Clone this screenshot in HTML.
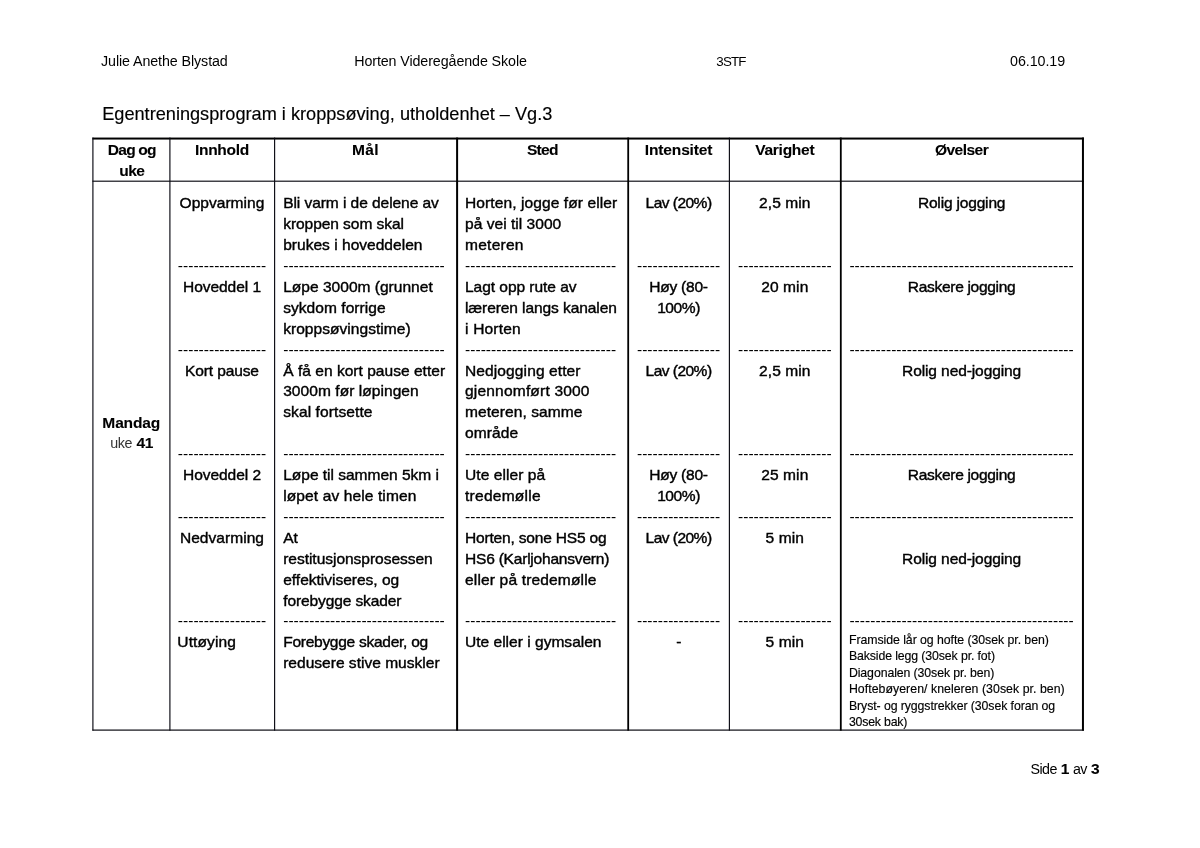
<!DOCTYPE html>
<html lang="no"><head><meta charset="utf-8"><title>Egentreningsprogram i kroppsøving, utholdenhet – Vg.3</title>
<style>
html,body{margin:0;padding:0;background:#fff;}
.page{position:relative;width:1200px;height:848px;overflow:hidden;background:#fff;font-family:"Liberation Sans", sans-serif;color:#000;}
h1{margin:0;font:inherit;}
.t{position:absolute;white-space:pre;line-height:1;font-kerning:normal;-webkit-text-stroke:0.4px currentColor;}
.h,.d{-webkit-text-stroke:0;}
.s{-webkit-text-stroke:0.15px currentColor;}
.b{-webkit-text-stroke:0.1px currentColor;}
.rules{position:absolute;left:0;top:0;}
</style></head><body><div class="page">
<svg class="rules" width="1200" height="848" viewBox="0 0 1200 848" aria-hidden="true"><rect x="92.40" y="137.55" width="991.60" height="2.00" fill="#000"/><rect x="92.40" y="180.62" width="991.60" height="1.15" fill="#0a0a12"/><rect x="92.40" y="729.50" width="991.60" height="1.20" fill="#0a0a12"/><rect x="92.33" y="137.55" width="1.15" height="593.10" fill="#0a0a12"/><rect x="169.33" y="137.55" width="1.15" height="593.10" fill="#0a0a12"/><rect x="274.03" y="137.55" width="1.15" height="593.10" fill="#0a0a12"/><rect x="456.10" y="137.55" width="2.00" height="593.10" fill="#000"/><rect x="627.30" y="137.55" width="1.80" height="593.10" fill="#000"/><rect x="728.82" y="137.55" width="1.15" height="593.10" fill="#0a0a12"/><rect x="839.90" y="137.55" width="1.80" height="593.10" fill="#000"/><rect x="1081.95" y="137.55" width="2.00" height="593.10" fill="#000"/></svg>
<header>
<span class="t h" style="left:101.00px;top:54px;font-size:14.27px;letter-spacing:-0.089px;">Julie Anethe Blystad</span>
<span class="t h" style="left:354.20px;top:54px;font-size:14.27px;letter-spacing:-0.096px;">Horten Videregående Skole</span>
<span class="t h" style="left:716.30px;top:55px;font-size:13.33px;letter-spacing:-0.834px;">3STF</span>
<span class="t h" style="left:1010.08px;top:54px;font-size:14.27px;letter-spacing:-0.077px;">06.10.19</span>
</header>
<h1>
<span class="t s" style="left:102.20px;top:105px;font-size:18.16px;">Egentreningsprogram i kroppsøving, utholdenhet – Vg.3</span>
</h1>
<div role="table">
<div role="row">
<div role="columnheader">
<span class="t b" style="left:107.86px;top:142px;font-size:15.56px;font-weight:700;letter-spacing:-0.801px;">Dag og</span>
<span class="t b" style="left:119.34px;top:163px;font-size:15.56px;font-weight:700;letter-spacing:-0.627px;">uke</span>
</div>
<div role="columnheader">
<span class="t b" style="left:194.95px;top:142px;font-size:15.56px;font-weight:700;letter-spacing:-0.298px;">Innhold</span>
</div>
<div role="columnheader">
<span class="t b" style="left:352.06px;top:142px;font-size:15.56px;font-weight:700;letter-spacing:0.352px;">Mål</span>
</div>
<div role="columnheader">
<span class="t b" style="left:526.91px;top:142px;font-size:15.56px;font-weight:700;letter-spacing:-0.681px;">Sted</span>
</div>
<div role="columnheader">
<span class="t b" style="left:644.74px;top:142px;font-size:15.56px;font-weight:700;letter-spacing:-0.149px;">Intensitet</span>
</div>
<div role="columnheader">
<span class="t b" style="left:755.31px;top:142px;font-size:15.56px;font-weight:700;letter-spacing:-0.298px;">Varighet</span>
</div>
<div role="columnheader">
<span class="t b" style="left:934.96px;top:142px;font-size:15.56px;font-weight:700;letter-spacing:-0.541px;">Øvelser</span>
</div>
</div>
<div role="row">
<div role="cell">
<span class="t b" style="left:102.36px;top:415px;font-size:15.56px;font-weight:700;letter-spacing:-0.176px;">Mandag</span>
<span class="t h" style="left:110.25px;top:436px;font-size:14.27px;color:#333;letter-spacing:-0.349px;">uke </span>
<span class="t b" style="left:136.42px;top:435px;font-size:15.56px;font-weight:700;letter-spacing:-0.284px;">41</span>
</div>
<div role="cell">
<span class="t" style="left:179.56px;top:195px;font-size:15.56px;letter-spacing:0.013px;">Oppvarming</span>
<span class="t d" style="left:177.79px;top:258px;font-size:15.56px;letter-spacing:0.021px;">-----------------</span>
<span class="t" style="left:182.99px;top:279px;font-size:15.56px;letter-spacing:-0.068px;">Hoveddel 1</span>
<span class="t d" style="left:177.79px;top:342px;font-size:15.56px;letter-spacing:0.021px;">-----------------</span>
<span class="t" style="left:185.03px;top:363px;font-size:15.56px;letter-spacing:-0.132px;">Kort pause</span>
<span class="t d" style="left:177.79px;top:446px;font-size:15.56px;letter-spacing:0.021px;">-----------------</span>
<span class="t" style="left:182.99px;top:467px;font-size:15.56px;letter-spacing:-0.068px;">Hoveddel 2</span>
<span class="t d" style="left:177.79px;top:509px;font-size:15.56px;letter-spacing:0.021px;">-----------------</span>
<span class="t" style="left:179.90px;top:530px;font-size:15.56px;letter-spacing:0.032px;">Nedvarming</span>
<span class="t d" style="left:177.79px;top:613px;font-size:15.56px;letter-spacing:0.021px;">-----------------</span>
<span class="t" style="left:177.35px;top:634px;font-size:15.56px;letter-spacing:0.101px;">Uttøying</span>
</div>
<div role="cell">
<span class="t" style="left:283.20px;top:195px;font-size:15.56px;letter-spacing:-0.074px;">Bli varm i de delene av</span>
<span class="t" style="left:283.20px;top:216px;font-size:15.56px;letter-spacing:-0.073px;">kroppen som skal</span>
<span class="t" style="left:283.20px;top:237px;font-size:15.56px;letter-spacing:0.005px;">brukes i hoveddelen</span>
<span class="t d" style="left:283.20px;top:258px;font-size:15.56px;letter-spacing:0.037px;">-------------------------------</span>
<span class="t" style="left:283.20px;top:279px;font-size:15.56px;">Løpe 3000m (grunnet</span>
<span class="t" style="left:283.20px;top:300px;font-size:15.56px;letter-spacing:0.036px;">sykdom forrige</span>
<span class="t" style="left:283.20px;top:321px;font-size:15.56px;letter-spacing:0.025px;">kroppsøvingstime)</span>
<span class="t d" style="left:283.20px;top:342px;font-size:15.56px;letter-spacing:0.037px;">-------------------------------</span>
<span class="t" style="left:283.20px;top:363px;font-size:15.56px;letter-spacing:0.013px;">Å få en kort pause etter</span>
<span class="t" style="left:283.20px;top:383px;font-size:15.56px;letter-spacing:0.041px;">3000m før løpingen</span>
<span class="t" style="left:283.20px;top:404px;font-size:15.56px;letter-spacing:0.088px;">skal fortsette</span>
<span class="t d" style="left:283.20px;top:446px;font-size:15.56px;letter-spacing:0.037px;">-------------------------------</span>
<span class="t" style="left:283.20px;top:467px;font-size:15.56px;letter-spacing:-0.032px;">Løpe til sammen 5km i</span>
<span class="t" style="left:283.20px;top:488px;font-size:15.56px;letter-spacing:0.102px;">løpet av hele timen</span>
<span class="t d" style="left:283.20px;top:509px;font-size:15.56px;letter-spacing:0.037px;">-------------------------------</span>
<span class="t" style="left:283.20px;top:530px;font-size:15.56px;letter-spacing:-0.058px;">At</span>
<span class="t" style="left:283.20px;top:551px;font-size:15.56px;letter-spacing:-0.039px;">restitusjonsprosessen</span>
<span class="t" style="left:283.20px;top:572px;font-size:15.56px;letter-spacing:-0.022px;">effektiviseres, og</span>
<span class="t" style="left:283.20px;top:593px;font-size:15.56px;letter-spacing:-0.121px;">forebygge skader</span>
<span class="t d" style="left:283.20px;top:613px;font-size:15.56px;letter-spacing:0.037px;">-------------------------------</span>
<span class="t" style="left:283.20px;top:634px;font-size:15.56px;letter-spacing:-0.285px;">Forebygge skader, og</span>
<span class="t" style="left:283.20px;top:655px;font-size:15.56px;">redusere stive muskler</span>
</div>
<div role="cell">
<span class="t" style="left:465.00px;top:195px;font-size:15.56px;letter-spacing:0.085px;">Horten, jogge før eller</span>
<span class="t" style="left:465.00px;top:216px;font-size:15.56px;letter-spacing:0.020px;">på vei til 3000</span>
<span class="t" style="left:465.00px;top:237px;font-size:15.56px;letter-spacing:0.242px;">meteren</span>
<span class="t d" style="left:465.00px;top:258px;font-size:15.56px;letter-spacing:0.035px;">-----------------------------</span>
<span class="t" style="left:465.00px;top:279px;font-size:15.56px;letter-spacing:-0.056px;">Lagt opp rute av</span>
<span class="t" style="left:465.00px;top:300px;font-size:15.56px;letter-spacing:-0.097px;">læreren langs kanalen</span>
<span class="t" style="left:465.00px;top:321px;font-size:15.56px;letter-spacing:0.177px;">i Horten</span>
<span class="t d" style="left:465.00px;top:342px;font-size:15.56px;letter-spacing:0.035px;">-----------------------------</span>
<span class="t" style="left:465.00px;top:363px;font-size:15.56px;letter-spacing:0.096px;">Nedjogging etter</span>
<span class="t" style="left:465.00px;top:383px;font-size:15.56px;letter-spacing:0.177px;">gjennomført 3000</span>
<span class="t" style="left:465.00px;top:404px;font-size:15.56px;letter-spacing:0.065px;">meteren, samme</span>
<span class="t" style="left:465.00px;top:425px;font-size:15.56px;letter-spacing:0.106px;">område</span>
<span class="t d" style="left:465.00px;top:446px;font-size:15.56px;letter-spacing:0.035px;">-----------------------------</span>
<span class="t" style="left:465.00px;top:467px;font-size:15.56px;letter-spacing:0.052px;">Ute eller på</span>
<span class="t" style="left:465.00px;top:488px;font-size:15.56px;letter-spacing:0.246px;">tredemølle</span>
<span class="t d" style="left:465.00px;top:509px;font-size:15.56px;letter-spacing:0.035px;">-----------------------------</span>
<span class="t" style="left:465.00px;top:530px;font-size:15.56px;letter-spacing:-0.203px;">Horten, sone HS5 og</span>
<span class="t" style="left:465.00px;top:551px;font-size:15.56px;letter-spacing:-0.224px;">HS6 (Karljohansvern)</span>
<span class="t" style="left:465.00px;top:572px;font-size:15.56px;letter-spacing:0.151px;">eller på tredemølle</span>
<span class="t d" style="left:465.00px;top:613px;font-size:15.56px;letter-spacing:0.035px;">-----------------------------</span>
<span class="t" style="left:465.00px;top:634px;font-size:15.56px;">Ute eller i gymsalen</span>
</div>
<div role="cell">
<span class="t" style="left:645.55px;top:195px;font-size:15.56px;letter-spacing:-0.541px;">Lav (20%)</span>
<span class="t d" style="left:636.98px;top:258px;font-size:15.56px;letter-spacing:0.018px;">----------------</span>
<span class="t" style="left:649.37px;top:279px;font-size:15.56px;letter-spacing:-0.264px;">Høy (80-</span>
<span class="t" style="left:657.15px;top:300px;font-size:15.56px;letter-spacing:-0.429px;">100%)</span>
<span class="t d" style="left:636.98px;top:342px;font-size:15.56px;letter-spacing:0.018px;">----------------</span>
<span class="t" style="left:645.55px;top:363px;font-size:15.56px;letter-spacing:-0.541px;">Lav (20%)</span>
<span class="t d" style="left:636.98px;top:446px;font-size:15.56px;letter-spacing:0.018px;">----------------</span>
<span class="t" style="left:649.37px;top:467px;font-size:15.56px;letter-spacing:-0.264px;">Høy (80-</span>
<span class="t" style="left:657.15px;top:488px;font-size:15.56px;letter-spacing:-0.429px;">100%)</span>
<span class="t d" style="left:636.98px;top:509px;font-size:15.56px;letter-spacing:0.018px;">----------------</span>
<span class="t" style="left:645.55px;top:530px;font-size:15.56px;letter-spacing:-0.541px;">Lav (20%)</span>
<span class="t d" style="left:636.98px;top:613px;font-size:15.56px;letter-spacing:0.018px;">----------------</span>
<span class="t" style="left:676.23px;top:634px;font-size:15.56px;letter-spacing:-0.553px;">-</span>
</div>
<div role="cell">
<span class="t" style="left:759.08px;top:195px;font-size:15.56px;letter-spacing:0.064px;">2,5 min</span>
<span class="t d" style="left:738.00px;top:258px;font-size:15.56px;letter-spacing:0.022px;">------------------</span>
<span class="t" style="left:761.22px;top:279px;font-size:15.56px;letter-spacing:0.082px;">20 min</span>
<span class="t d" style="left:738.00px;top:342px;font-size:15.56px;letter-spacing:0.022px;">------------------</span>
<span class="t" style="left:759.08px;top:363px;font-size:15.56px;letter-spacing:0.064px;">2,5 min</span>
<span class="t d" style="left:738.00px;top:446px;font-size:15.56px;letter-spacing:0.022px;">------------------</span>
<span class="t" style="left:761.22px;top:467px;font-size:15.56px;letter-spacing:0.082px;">25 min</span>
<span class="t d" style="left:738.00px;top:509px;font-size:15.56px;letter-spacing:0.022px;">------------------</span>
<span class="t" style="left:765.55px;top:530px;font-size:15.56px;letter-spacing:0.092px;">5 min</span>
<span class="t d" style="left:738.00px;top:613px;font-size:15.56px;letter-spacing:0.022px;">------------------</span>
<span class="t" style="left:765.55px;top:634px;font-size:15.56px;letter-spacing:0.092px;">5 min</span>
</div>
<div role="cell">
<span class="t" style="left:917.89px;top:195px;font-size:15.56px;letter-spacing:-0.190px;">Rolig jogging</span>
<span class="t d" style="left:849.38px;top:258px;font-size:15.56px;letter-spacing:0.042px;">-------------------------------------------</span>
<span class="t" style="left:907.75px;top:279px;font-size:15.56px;letter-spacing:-0.311px;">Raskere jogging</span>
<span class="t d" style="left:849.38px;top:342px;font-size:15.56px;letter-spacing:0.042px;">-------------------------------------------</span>
<span class="t" style="left:902.04px;top:363px;font-size:15.56px;letter-spacing:-0.112px;">Rolig ned-jogging</span>
<span class="t d" style="left:849.38px;top:446px;font-size:15.56px;letter-spacing:0.042px;">-------------------------------------------</span>
<span class="t" style="left:907.75px;top:467px;font-size:15.56px;letter-spacing:-0.311px;">Raskere jogging</span>
<span class="t d" style="left:849.38px;top:509px;font-size:15.56px;letter-spacing:0.042px;">-------------------------------------------</span>
<span class="t" style="left:902.04px;top:551px;font-size:15.56px;letter-spacing:-0.112px;">Rolig ned-jogging</span>
<span class="t d" style="left:849.38px;top:613px;font-size:15.56px;letter-spacing:0.042px;">-------------------------------------------</span>
<span class="t s" style="left:848.95px;top:634px;font-size:12.32px;letter-spacing:-0.055px;">Framside lår og hofte (30sek pr. ben)</span>
<span class="t s" style="left:848.95px;top:650px;font-size:12.32px;letter-spacing:-0.116px;">Bakside legg (30sek pr. fot)</span>
<span class="t s" style="left:848.95px;top:667px;font-size:12.32px;letter-spacing:-0.096px;">Diagonalen (30sek pr. ben)</span>
<span class="t s" style="left:848.95px;top:683px;font-size:12.32px;letter-spacing:0.041px;">Hoftebøyeren/ kneleren (30sek pr. ben)</span>
<span class="t s" style="left:848.95px;top:700px;font-size:12.32px;letter-spacing:-0.087px;">Bryst- og ryggstrekker (30sek foran og</span>
<span class="t s" style="left:848.95px;top:716px;font-size:12.32px;letter-spacing:-0.204px;">30sek bak)</span>
</div>
</div>
</div>
<footer>
<span class="t h" style="left:1030.52px;top:762px;font-size:14.27px;letter-spacing:-0.554px;">Side </span>
<span class="t b" style="left:1060.87px;top:761px;font-size:15.56px;font-weight:700;letter-spacing:-0.584px;">1</span>
<span class="t h" style="left:1069.54px;top:762px;font-size:14.27px;letter-spacing:-0.552px;"> av </span>
<span class="t b" style="left:1090.93px;top:761px;font-size:15.56px;font-weight:700;letter-spacing:-0.584px;">3</span>
</footer>
</div></body></html>
